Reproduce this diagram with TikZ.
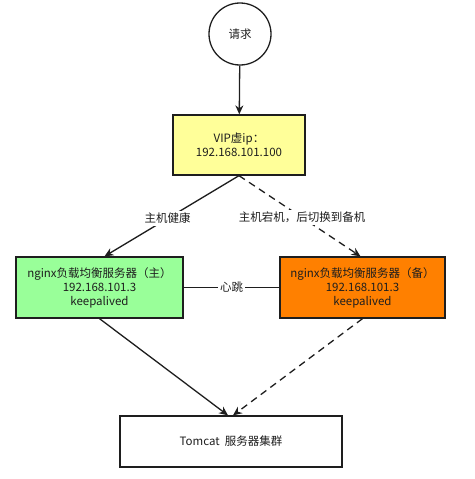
\documentclass[tikz,border=0pt]{standalone}
\usepackage{fontspec}
\usepackage{tikz}
\usetikzlibrary{arrows.meta}
\newfontfamily\cjk{Noto Sans CJK SC}
\definecolor{vipyellow}{RGB}{255,255,153}
\definecolor{mastergreen}{RGB}{153,255,153}
\definecolor{backuporange}{RGB}{255,128,0}
\definecolor{inkgrey}{RGB}{30,30,30}

\begin{document}
\begin{tikzpicture}[x=1pt,y=-1pt,
  every node/.style={font=\cjk\fontsize{11.5}{14}\selectfont, text=inkgrey},
  box/.style={draw=inkgrey, line width=1.3pt, align=center, inner sep=0pt},
  link/.style={draw=inkgrey, line width=1.3pt, -{Stealth[length=9pt,width=8pt]}},
  tag/.style={fill=white, inner sep=2pt}]
\useasboundingbox (0,0) rectangle (474,479);

\node [circle, draw=inkgrey, line width=1.3pt, minimum size=62pt, inner sep=0pt] (req) at (240,34) {请求};
\node [box, fill=vipyellow, minimum width=132pt, minimum height=60pt] (vip) at (239,145) {VIP虚ip：\\192.168.101.100};
\node [box, fill=mastergreen, minimum width=167pt, minimum height=61pt] (master) at (99.5,287.5) {nginx负载均衡服务器（主）\\192.168.101.3\\keepalived};
\node [box, fill=backuporange, minimum width=165pt, minimum height=61pt] (backup) at (362.5,287.5) {nginx负载均衡服务器（备）\\192.168.101.3\\keepalived};
\node [box, fill=white, minimum width=222pt, minimum height=51pt] (tomcat) at (231,441.5) {Tomcat\ \ 服务器集群};

\draw [link] (req) -- (vip);
\draw [link] (vip.south) -- node [tag, pos=0.53] {主机健康} ([xshift=5pt]master.north);
\draw [link, dashed, dash pattern=on 7pt off 5pt] (vip.south) -- node [tag, pos=0.52] {主机宕机，后切换到备机} ([xshift=-2pt]backup.north);
\draw [draw=inkgrey, line width=1.3pt] (master) -- node [tag] {心跳} (backup);
\draw [link] (master.south) -- ([xshift=-3pt]tomcat.north);
\draw [link, dashed, dash pattern=on 7pt off 5pt] (backup.south) -- ([xshift=2pt]tomcat.north);

\end{tikzpicture}
\end{document}
